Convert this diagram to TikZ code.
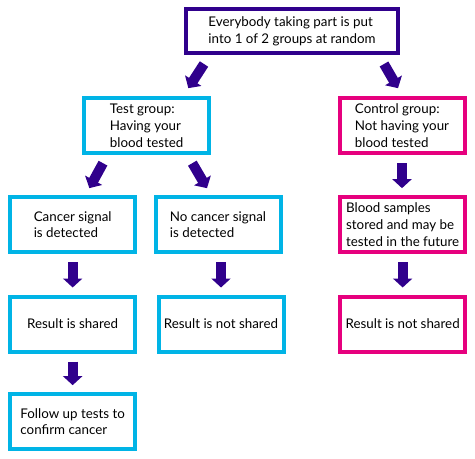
\documentclass[tikz,border=0pt]{standalone}
\usepackage{fontspec}
\setmainfont{Lato}
\usetikzlibrary{arrows.meta}

\definecolor{groupviolet}{RGB}{48,0,140}
\definecolor{testcyan}{RGB}{0,180,230}
\definecolor{ctrlmagenta}{RGB}{230,0,126}

\begin{document}
\begin{tikzpicture}[
  box/.style={draw, line width=0.12cm, minimum width=3.75cm, minimum height=1.65cm,
    inner sep=0pt, align=left, font=\fontsize{11.4}{14.2}\selectfont},
  startbox/.style={box, draw=groupviolet, minimum width=6.36cm, minimum height=1.32cm},
  testbox/.style={box, draw=testcyan},
  ctrlbox/.style={box, draw=ctrlmagenta},
  blockarrow/.style={groupviolet, line width=0.3cm, -{Triangle[length=0.27cm,width=0.57cm]}},
  downarrow/.style={blockarrow, shorten <=0.24cm, shorten >=0.21cm}
]
\useasboundingbox (0,0) rectangle (14.25,-13.77);

% boxes
\node[startbox] (start) at (8.76,-0.93) {Everybody taking part is put\\into 1 of 2 groups at random};

\node[testbox] (test) at (4.40,-3.77) {Test group:\\Having your\\blood tested};
\node[ctrlbox] (control) at (12.06,-3.77) {Control group:\\Not having your\\blood tested};

\node[testbox] (cancer) at (2.18,-6.74) {Cancer signal\\is detected};
\node[testbox] (nocancer) at (6.54,-6.74) {No cancer signal\\is detected};
\node[ctrlbox] (stored) at (12.08,-6.74) {Blood samples\\stored and may be\\tested in the future};

\node[testbox] (shared) at (2.18,-9.72) {Result is shared};
\node[testbox] (notshared) at (6.63,-9.72) {Result is not shared};
\node[ctrlbox] (ctrlnotshared) at (12.08,-9.72) {Result is not shared};

\node[testbox] (followup) at (2.18,-12.65) {Follow up tests to\\confirm cancer};

% arrows
\draw[blockarrow] ([shift={(-2.64,-0.27)}]start.south) -- ([shift={(1.25,0.24)}]test.north);
\draw[blockarrow] ([shift={(2.76,-0.27)}]start.south) -- ([shift={(-0.12,0.24)}]control.north);

\draw[blockarrow] ([shift={(-1.31,-0.24)}]test.south) -- ([shift={(0.50,0.21)}]cancer.north);
\draw[blockarrow] ([shift={(1.37,-0.24)}]test.south) -- ([shift={(-0.33,0.21)}]nocancer.north);

\draw[downarrow] (control.south) -- (control.south |- stored.north);
\draw[downarrow] (cancer.south) -- (shared.north);
\draw[downarrow] (notshared.north |- nocancer.south) -- (notshared.north);
\draw[downarrow] (stored.south) -- (ctrlnotshared.north);
\draw[downarrow] (shared.south) -- (followup.north);

\end{tikzpicture}
\end{document}
